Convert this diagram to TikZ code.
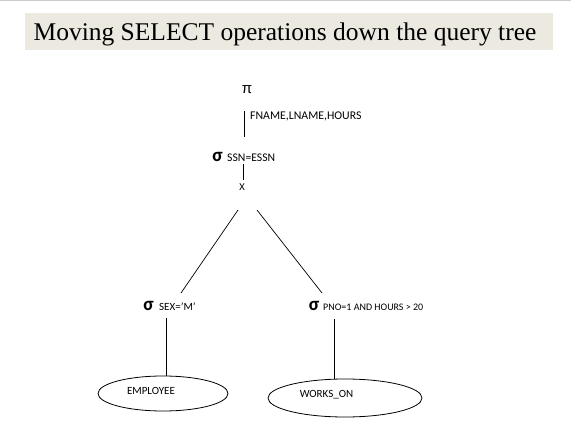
\documentclass[tikz,border=0pt]{standalone}
\usepackage{fontspec}
\usetikzlibrary{shapes.geometric}
\setmainfont{Liberation Serif}
\newfontfamily\calfont{Carlito}
\newfontfamily\symfont{Liberation Sans}
\definecolor{banner}{HTML}{ECEAE0}
\begin{document}
\begin{tikzpicture}[x=1pt,y=-1pt,
  lbl/.style={inner sep=0pt, anchor=base west},
  sig/.style={font=\calfont\bfseries\fontsize{19}{22}\selectfont, inner sep=0pt, anchor=base},
  rel/.style={draw, ellipse, line width=0.8pt, inner sep=0pt},
  edge/.style={line width=0.7pt}]
\useasboundingbox (0,0) rectangle (571,436);
\fill[white] (0,0) rectangle (571,436);
\draw[gray!40, line width=1pt] (0,0.5) -- (571,0.5);
\fill[banner] (25,13) rectangle (553,50);
\node[font=\fontsize{25.5}{28}\selectfont, inner sep=0pt, anchor=base] (title) at (285,41) {Moving SELECT operations down the query tree};
% projection
\node[font=\symfont\fontsize{15}{17}\selectfont, inner sep=0pt] (pi) at (247,90) {π};
\node[lbl, font=\calfont\fontsize{11.8}{13}\selectfont] (proj) at (250,120) {FNAME,LNAME,HOURS};
\coordinate (p1) at (244,111);
\coordinate (p2) at (244,137);
\draw[edge] (p1) -- (p2);
% select ssn
\node[sig] (s1) at (217.5,161) {σ};
\node[lbl, font=\calfont\fontsize{11.7}{13}\selectfont] (s1t) at (227,161) {SSN=ESSN};
\coordinate (q1) at (243,164);
\coordinate (q2) at (243,180);
\draw[edge] (q1) -- (q2);
\node[font=\calfont\fontsize{10.5}{12}\selectfont, inner sep=0pt] (x) at (242,187) {X};
% branches
\coordinate (l1) at (238,210);
\coordinate (l2) at (181,293);
\coordinate (r1) at (257,210);
\coordinate (r2) at (322,293);
\draw[edge] (l1) -- (l2);
\draw[edge] (r1) -- (r2);
% selects
\node[sig] (s2) at (148.5,310) {σ};
\node[lbl, font=\calfont\fontsize{11}{12}\selectfont] (s2t) at (159,310) {SEX=’M’};
\node[sig] (s3) at (314,310) {σ};
\node[lbl, font=\calfont\fontsize{10}{12}\selectfont] (s3t) at (323,310) {PNO=1 AND HOURS > 20};
% relations
\node[rel, minimum width=130pt, minimum height=35pt] (emp) at (163,393.5) {};
\node[font=\calfont\fontsize{11}{13}\selectfont, inner sep=0pt] (empt) at (151,391) {EMPLOYEE};
\node[rel, minimum width=154pt, minimum height=38pt] (wo) at (345,398) {};
\node[font=\calfont\fontsize{11}{13}\selectfont, inner sep=0pt] (wot) at (326.5,395) {WORKS\_ON};
\coordinate (e1) at (166,318);
\coordinate (w1) at (334,319);
\draw[edge] (e1) -- (e1 |- emp.north);
\draw[edge] (w1) -- (w1 |- wo.north);
\end{tikzpicture}
\end{document}
